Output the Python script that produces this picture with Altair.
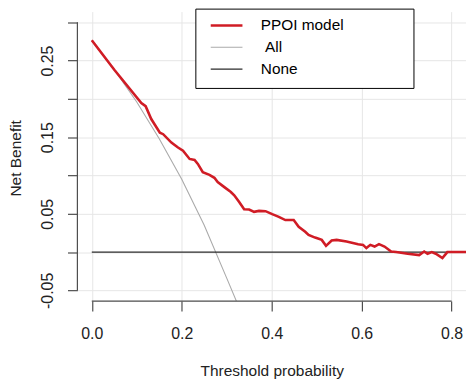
import altair as alt
import pandas as pd

# ---- data ----
NBSP = "\u00a0"
ZW = "\u200b"  # keeps the padding from being trimmed
series_names = ["PPOI model" + NBSP * 14 + ZW, ZW + NBSP + "All", "None"]
series_colors = ["#d01c25", "#aaaaaa", "#2b2b2b"]
series_widths = [2.6, 1.1, 1.2]

model_t = [0.0, 0.05, 0.1102, 0.1197, 0.1322, 0.1514, 0.1587, 0.1770, 0.1917, 0.2028,
           0.2175, 0.2285, 0.2358, 0.2468, 0.2616, 0.2726, 0.2799, 0.2947, 0.3092,
           0.3167, 0.3277, 0.3387, 0.3498, 0.3608, 0.3718, 0.3863, 0.4011, 0.4159,
           0.4304, 0.4489, 0.4600, 0.4745, 0.4820, 0.4965, 0.5113, 0.5208, 0.5333,
           0.5444, 0.5664, 0.5922, 0.6032, 0.6105, 0.6193, 0.6288, 0.6385, 0.6508,
           0.6656, 0.6766, 0.7024, 0.7279, 0.7390, 0.7465, 0.7559, 0.7648, 0.7795,
           0.7905, 0.85]
model_nb = [0.2767, 0.238, 0.1947, 0.1905, 0.1737, 0.1559, 0.1539, 0.1430, 0.1366, 0.1323,
            0.1216, 0.1203, 0.1151, 0.1042, 0.1009, 0.0970, 0.0913, 0.0848, 0.0784,
            0.0741, 0.0654, 0.0560, 0.0556, 0.0525, 0.0538, 0.0534, 0.0495, 0.0460,
            0.0418, 0.0418, 0.0331, 0.0266, 0.0224, 0.0189, 0.0159, 0.0081, 0.0150,
            0.0159, 0.0137, 0.0103, 0.0094, 0.0052, 0.0094, 0.0072, 0.0103, 0.0072,
            0.0008, 0.0, -0.0022, -0.0039, 0.0008, -0.0022, 0.0, -0.0022, -0.0078,
            0.0, 0.0]

all_t = [0.0, 0.05, 0.10, 0.15, 0.20, 0.25, 0.30, 0.325]
all_nb = [0.276, 0.238, 0.196, 0.148, 0.095, 0.035, -0.034, -0.069]

none_t = [0.0, 0.85]
none_nb = [0.0, 0.0]

x_ticks = [0.0, 0.2, 0.4, 0.6, 0.8]
y_ticks = [-0.05, 0.0, 0.05, 0.10, 0.15, 0.20, 0.25, 0.30]
X_DOMAIN = [-0.032, 0.832]
Y_DOMAIN = [-0.064, 0.314]

FONT = "Liberation Sans"

df_model = pd.DataFrame({"t": model_t, "nb": model_nb, "series": series_names[0]})
df_all = pd.DataFrame({"t": all_t, "nb": all_nb, "series": series_names[1]})
df_none = pd.DataFrame({"t": none_t, "nb": none_nb, "series": series_names[2]})

legend = alt.Legend(
    title=None, orient="none", legendX=119, legendY=-3,
    direction="vertical", columns=1,
    strokeColor="#000000", fillColor="#ffffff", padding=10, cornerRadius=0,
    symbolType="M-2,0L2,0", symbolSize=256, symbolOffset=12, labelOffset=25,
    rowPadding=6, clipHeight=14,
    labelFont=FONT, labelFontSize=15.5, labelColor="#000000", labelLimit=300,
)

x_enc = alt.X("t:Q",
              scale=alt.Scale(domain=X_DOMAIN, nice=False, zero=False),
              axis=alt.Axis(values=x_ticks, format=".1f", grid=True, gridColor="#e6e6e6",
                            domain=False, tickColor="#4d4d4d", tickSize=10, tickWidth=1.2,
                            labelFont=FONT, labelFontSize=16, labelColor="#222222",
                            labelBaseline="alphabetic", labelPadding=27.3,
                            labelFlush=False, labelOverlap=False,
                            title="Threshold probability", titleFont=FONT,
                            titleFontSize=15.6, titleFontWeight="normal", titleColor="#222222",
                            titleX=196, titleY=75, titleAlign="center",
                            titleBaseline="alphabetic"))
y_enc = alt.Y("nb:Q",
              scale=alt.Scale(domain=Y_DOMAIN, nice=False, zero=False),
              axis=alt.Axis(values=y_ticks, grid=True, gridColor="#e6e6e6",
                            domain=False, tickColor="#4d4d4d", tickSize=10, tickWidth=1.2,
                            labelExpr=("round(datum.value*100) == 25 ? '0.25' : "
                                       "round(datum.value*100) == 15 ? '0.15' : "
                                       "round(datum.value*100) == 5 ? '0.05' : "
                                       "round(datum.value*100) == -5 ? '-0.05' : ''"),
                            labelFont=FONT, labelFontSize=16, labelColor="#222222",
                            labelAngle=270, labelAlign="center", labelBaseline="alphabetic",
                            labelPadding=14.7, labelOverlap=False, labelFlush=False,
                            title="Net Benefit", titleFont=FONT, titleFontSize=15.6,
                            titleFontWeight="normal", titleColor="#222222",
                            titleAngle=270, titleX=-57, titleY=147.5,
                            titleAlign="center", titleBaseline="alphabetic"))
color_enc = alt.Color("series:N",
                      scale=alt.Scale(domain=series_names, range=series_colors),
                      legend=legend, title=None)
width_enc = alt.StrokeWidth("series:N",
                            scale=alt.Scale(type="ordinal", domain=series_names, range=series_widths),
                            legend=legend, title=None)


def line_layer(df):
    return alt.Chart(df).mark_line(clip=True).encode(
        x=x_enc, y=y_enc, color=color_enc, strokeWidth=width_enc, order="t:Q")


# axis lines spanning only the tick range (R style)
x_axis_line = alt.Chart(pd.DataFrame({"a": [x_ticks[0]], "b": [x_ticks[-1]]})).mark_rule(
    color="#4d4d4d", strokeWidth=1.2).encode(
    x=alt.X("a:Q", scale=alt.Scale(domain=X_DOMAIN, nice=False, zero=False)),
    x2="b:Q", y=alt.datum(Y_DOMAIN[0]))
y_axis_line = alt.Chart(pd.DataFrame({"a": [y_ticks[0]], "b": [y_ticks[-1]]})).mark_rule(
    color="#4d4d4d", strokeWidth=1.2).encode(
    y=alt.Y("a:Q", scale=alt.Scale(domain=Y_DOMAIN, nice=False, zero=False)),
    y2="b:Q", x=alt.datum(X_DOMAIN[0]))

chart = alt.layer(
    line_layer(df_all), line_layer(df_none), line_layer(df_model),
    x_axis_line, y_axis_line,
).properties(
    width=392, height=292,
    autosize=alt.AutoSizeParams(type="none"),
    padding={"left": 70, "top": 2, "right": 0, "bottom": 80},
    background="#ffffff",
).configure_view(strokeWidth=0)

chart.save("out.html", embed_options={"renderer": "svg", "actions": False})
